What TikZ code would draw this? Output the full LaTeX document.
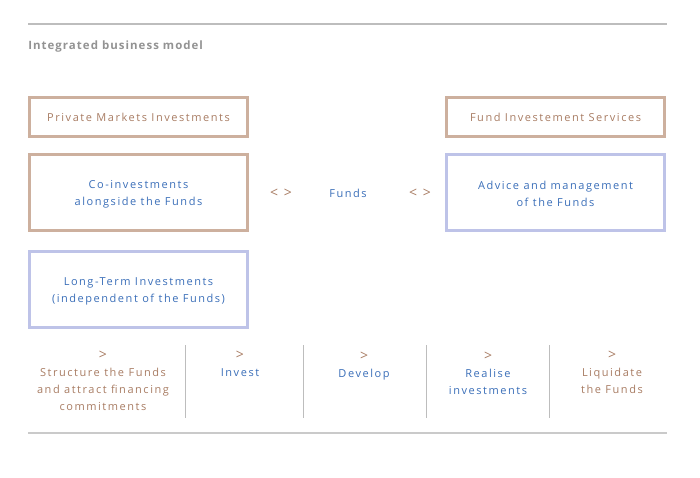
\documentclass[tikz,border=0pt]{standalone}
\usepackage{fontspec}
\setmainfont[LetterSpace=14]{Open Sans}
\newfontfamily\titlefont[LetterSpace=9]{Open Sans}
\usetikzlibrary{positioning}

\definecolor{tanline}{HTML}{CDB09E}
\definecolor{lavline}{HTML}{BEC3E8}
\definecolor{browntext}{HTML}{A87C63}
\definecolor{bluetext}{HTML}{3A6EB8}
\definecolor{rulegray}{HTML}{BDBDBD}

\newcommand{\chev}[1]{{\fontsize{10.5}{12.75}\selectfont #1}}

\tikzset{
    txt/.style={font=\fontsize{8.25}{12.75}\selectfont, align=center, inner sep=0pt},
    tanbox/.style={rectangle, draw=tanline, line width=2.25pt, minimum width=163.5pt, txt},
    lavbox/.style={rectangle, draw=lavline, line width=2.25pt, minimum width=163.5pt, txt},
    stepcol/.style={txt, anchor=north},
}

\begin{document}
\begin{tikzpicture}[x=0.75pt, y=-0.75pt]
\useasboundingbox (0,0) rectangle (700,478);

\draw[rulegray, line width=0.9pt] (28,24) -- (667,24);
\node (title) [anchor=base west, inner sep=0pt, text=gray!85, font=\titlefont\fontsize{8.6}{10}\selectfont\bfseries] at (28,50) {Integrated business model};

% left column of boxes
\node (pmi) [tanbox, minimum height=29.25pt, text=browntext] at (138.5,117) {Private Markets Investments};
\node (coinv) [tanbox, minimum height=57pt, text=bluetext, below=11.25pt of pmi] {\rule{0pt}{9pt}Co-investments\\alongside the Funds};
\node (lti) [lavbox, minimum height=57pt, text=bluetext, below=13.5pt of coinv] {\rule{0pt}{8pt}Long-Term Investments\\(independent of the Funds)};

% right column of boxes
\node (fis) [tanbox, minimum height=29.25pt, text=browntext] at (555.5,117) {Fund Investement Services};
\node (adv) [lavbox, minimum height=57pt, text=bluetext, below=11.25pt of fis] {\rule{0pt}{8pt}Advice and management\\of the Funds};

\node (funds) [txt, text=bluetext] at (348,193) {Funds};
    \node (lr1) [txt, text=browntext] at (281,193) {\chev{< >}};
    \node (lr2) [txt, text=browntext] at (420,193) {\chev{< >}};

% steps
\foreach \x in {185,303,426,549}
    \draw[rulegray, line width=0.75pt] (\x,345) -- (\x,418);

\node (s1) [stepcol, text=browntext] at (103,351) {\chev{>}\\Structure the Funds\\and attract financing\\commitments};
\node (s2) [stepcol, text=bluetext] at (240,351) {\textcolor{browntext}{\chev{>}}\\Invest};
\node (s3) [stepcol, text=bluetext] at (364,352) {\textcolor{browntext}{\chev{>}}\\Develop};
\node (s4) [stepcol, text=bluetext] at (488,352) {\textcolor{browntext}{\chev{>}}\\Realise\\investments};
\node (s5) [stepcol, text=browntext] at (612,351) {\chev{>}\\Liquidate\\the Funds};

\draw[rulegray!80, line width=1.5pt] (28,433) -- (667,433);

\end{tikzpicture}
\end{document}
